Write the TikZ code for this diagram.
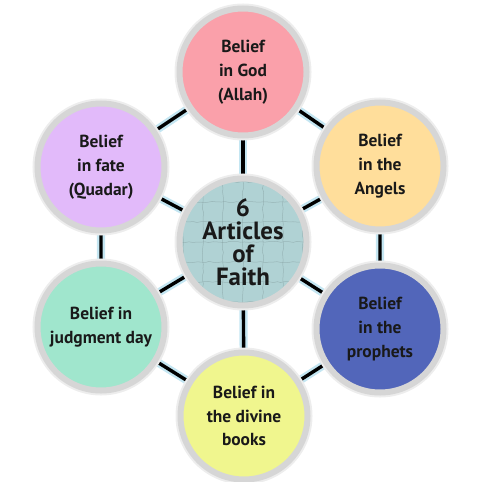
\documentclass[tikz,border=0pt]{standalone}
\usepackage{fontspec}
\setmainfont{PT Sans}
\usetikzlibrary{positioning, backgrounds, decorations.pathmorphing}

\definecolor{godpink}{RGB}{250,160,170}
\definecolor{angelgold}{RGB}{255,222,155}
\definecolor{prophetblue}{RGB}{82,102,186}
\definecolor{bookyellow}{RGB}{240,246,142}
\definecolor{daymint}{RGB}{160,230,205}
\definecolor{fatelilac}{RGB}{226,186,250}
\definecolor{faithteal}{RGB}{176,210,212}
\definecolor{tubeblue}{RGB}{196,230,242}

\begin{document}
\begin{tikzpicture}[
  x=1bp, y=-1bp,
  article/.style={
    circle, draw=gray!32, line width=6bp, minimum size=127bp,
    inner sep=0pt, align=center, text=black!90,
    font=\fontsize{17.5}{24}\selectfont\bfseries,
    preaction={draw=gray!14, line width=10bp}
  },
  crack/.style={
    draw=faithteal!70!black, line width=0.5bp, opacity=0.45,
    decorate, decoration={random steps, segment length=4bp, amplitude=0.7bp}
  },
  link/.style={
    draw=tubeblue, line width=2.4bp, double=black, double distance=3.4bp
  }
]
\useasboundingbox (0,0) rectangle (482,482);

\node[article, fill=faithteal, font=\fontsize{25}{23}\selectfont\bfseries,
  path picture={
    \foreach \k in {-3,...,3} {
      \draw[crack] ([shift={(\k*20,-70)}]path picture bounding box.center) -- ++(0,140);
      \draw[crack] ([shift={(-70,\k*20)}]path picture bounding box.center) -- ++(140,0);
    }
  }] (faith) at (243,242) {6\\Articles\\of\\Faith};

\node[article, fill=godpink] (god) at (243,72) {Belief\\in God\\(Allah)};
\node[article, fill=angelgold] (angels) at (380,166) {Belief\\in the\\Angels};
\node[article, fill=prophetblue] (prophets) at (380,329) {Belief\\in the\\prophets};
\node[article, fill=bookyellow] (books) at (244,416) {Belief in\\the divine\\books};
\node[article, fill=daymint] (judgment) at (101,327) {Belief in\\judgment day};
\node[article, fill=fatelilac] (fate) at (101,167) {Belief\\in fate\\(Quadar)};

\begin{scope}[on background layer]
\foreach \a in {god, angels, prophets, books, judgment, fate}
  \draw[link] (faith) -- (\a);
\draw[link] (god) -- (angels) -- (prophets) -- (books) -- (judgment) -- (fate) -- (god);
\end{scope}

\end{tikzpicture}
\end{document}
